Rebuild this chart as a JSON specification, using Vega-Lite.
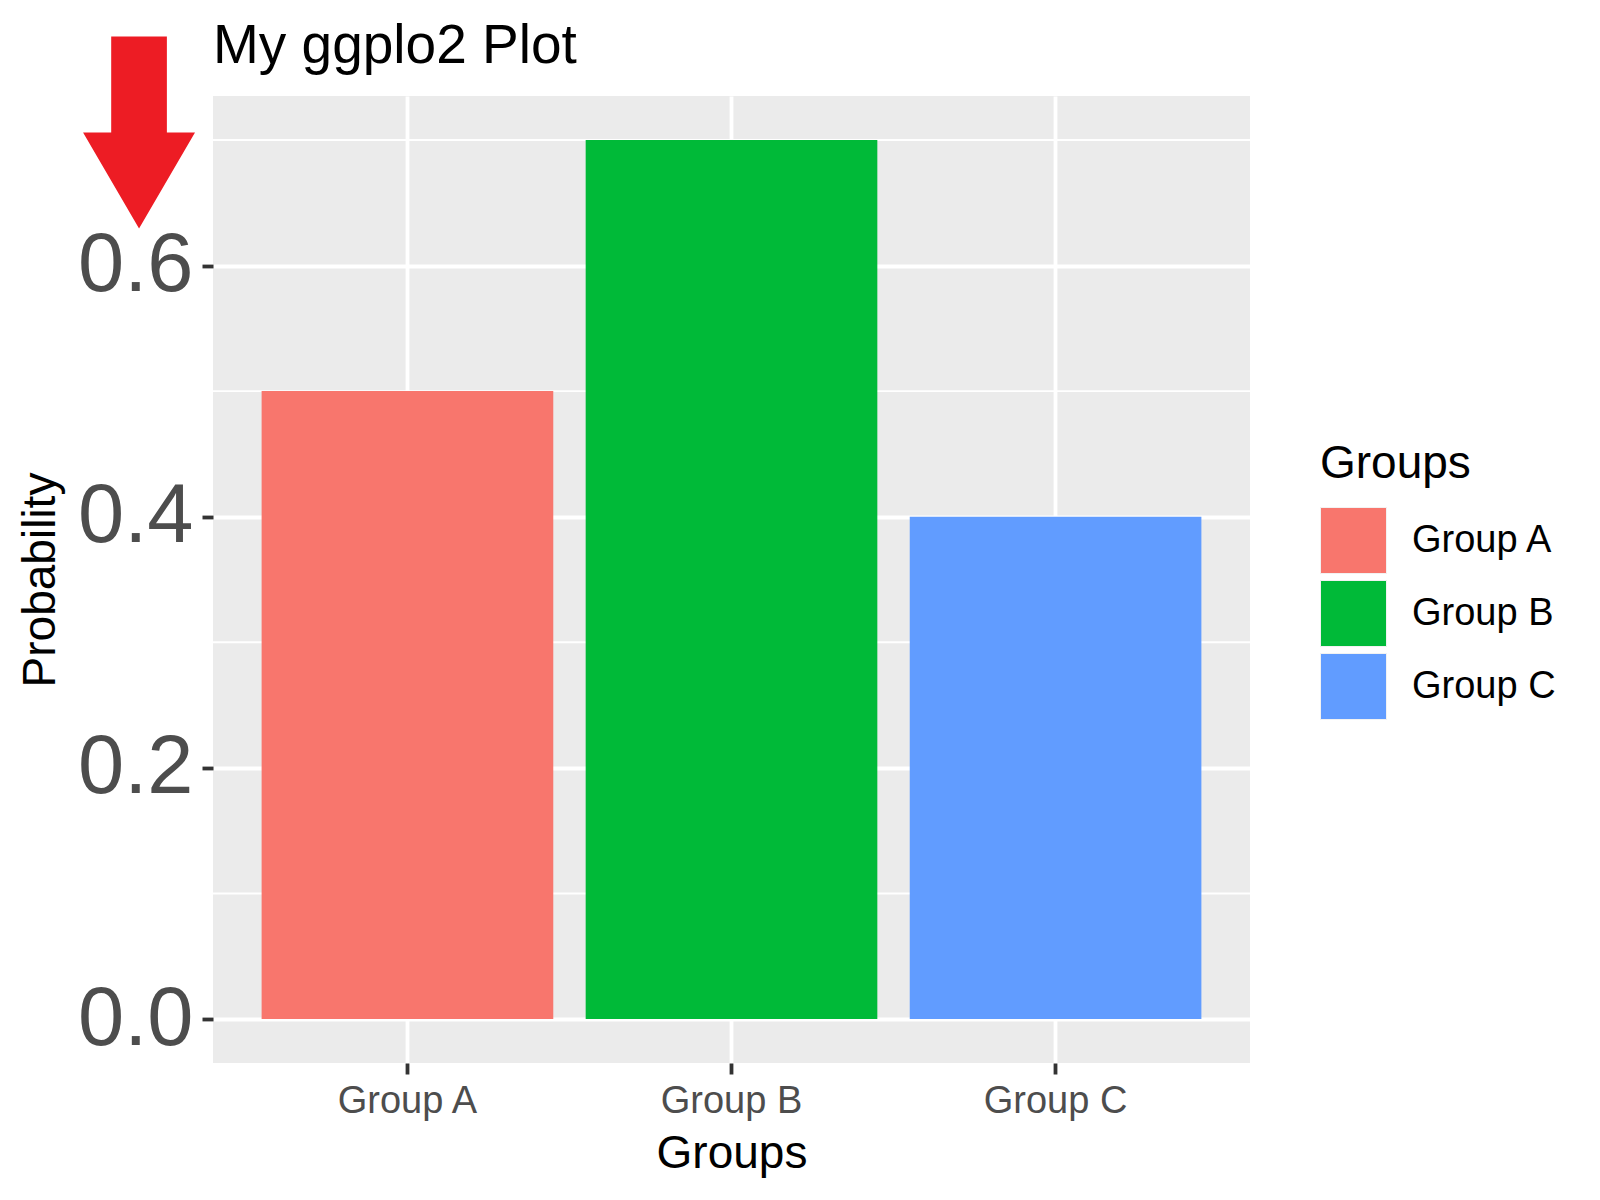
{
  "$schema": "https://vega.github.io/schema/vega-lite/v6.json",
  "width": 1037,
  "height": 967,
  "autosize": {"type": "none"},
  "padding": {"left": 213, "top": 96, "right": 350, "bottom": 137},
  "background": "white",
  "datasets": {
    "bars": [
      {"group": "Group A", "probability": 0.5},
      {"group": "Group B", "probability": 0.7},
      {"group": "Group C", "probability": 0.4}
    ],
    "minor": [
      {"break": 0.1},
      {"break": 0.3},
      {"break": 0.5},
      {"break": 0.7}
    ]
  },
  "title": {
    "text": "My ggplo2 Plot",
    "anchor": "start",
    "frame": "group",
    "font": "Liberation Sans",
    "fontSize": 55,
    "fontWeight": "normal",
    "color": "black",
    "baseline": "alphabetic",
    "offset": 0,
    "dy": 82
  },
  "config": {
    "font": "Liberation Sans",
    "view": {"fill": "#EBEBEB", "stroke": null}
  },
  "layer": [
    {
      "data": {"name": "minor"},
      "mark": {"type": "rule", "color": "white", "strokeWidth": 1.9},
      "encoding": {
        "y": {"field": "break", "type": "quantitative", "scale": {"domain": [-0.035, 0.735], "nice": false, "zero": false}}
      }
    },
    {
      "data": {"name": "bars"},
      "mark": {"type": "bar"},
      "encoding": {
        "x": {
          "field": "group",
          "type": "nominal",
          "scale": {"paddingInner": 0.1, "paddingOuter": 0.15},
          "axis": {
            "title": "Groups",
            "bandPosition": 0.5,
            "grid": true,
            "gridColor": "white",
            "gridWidth": 3.8,
            "domain": false,
            "tickSize": 11,
            "tickWidth": 3.8,
            "tickColor": "#333333",
            "labelAngle": 0,
            "labelFont": "Liberation Sans",
            "labelFontSize": 38,
            "labelColor": "#4D4D4D",
            "labelPadding": 8,
            "titleFont": "Liberation Sans",
            "titleFontSize": 46,
            "titleFontWeight": "normal",
            "titleColor": "black",
            "titleBaseline": "alphabetic",
            "titleY": 104
          }
        },
        "y": {
          "field": "probability",
          "type": "quantitative",
          "scale": {"domain": [-0.035, 0.735], "nice": false, "zero": false},
          "axis": {
            "title": "Probability",
            "values": [0, 0.2, 0.4, 0.6],
            "format": ".1f",
            "grid": true,
            "gridColor": "white",
            "gridWidth": 3.8,
            "domain": false,
            "tickSize": 11,
            "tickWidth": 3.8,
            "tickColor": "#333333",
            "labelFont": "Liberation Sans",
            "labelFontSize": 83,
            "labelColor": "#4D4D4D",
            "labelPadding": 9,
            "titleFont": "Liberation Sans",
            "titleFontSize": 46,
            "titleFontWeight": "normal",
            "titleColor": "black",
            "titleAngle": -90,
            "titleBaseline": "alphabetic",
            "titleX": -159,
            "titleY": 483.5
          }
        },
        "y2": {"datum": 0},
        "color": {
          "field": "group",
          "type": "nominal",
          "scale": {"domain": ["Group A", "Group B", "Group C"], "range": ["#F8766D", "#00BA38", "#619CFF"]},
          "legend": {
            "title": "Groups",
            "orient": "none",
            "legendX": 1107,
            "legendY": 346,
            "padding": 0,
            "titleFont": "Liberation Sans",
            "titleFontSize": 46,
            "titleFontWeight": "normal",
            "titleColor": "black",
            "titlePadding": 19,
            "labelFont": "Liberation Sans",
            "labelFontSize": 38,
            "labelColor": "black",
            "labelOffset": 25,
            "symbolType": "square",
            "symbolSize": 4356,
            "symbolOpacity": 1,
            "symbolStrokeWidth": 1,
            "symbolStrokeColor": "#F2F2F2",
            "rowPadding": 2
          }
        }
      }
    },
    {
      "data": {"values": [{}]},
      "mark": {
        "type": "point",
        "shape": "M-0.29,-1L0.29,-1L0.29,0L0.583,0L0,1L-0.583,0L-0.29,0Z",
        "size": 36864,
        "filled": true,
        "opacity": 1,
        "color": "#ED1C24",
        "strokeWidth": 0,
        "xOffset": -268.4
      },
      "encoding": {
        "x": {"datum": "Group A", "type": "nominal"},
        "y": {"datum": 0.706, "type": "quantitative"}
      }
    }
  ]
}
